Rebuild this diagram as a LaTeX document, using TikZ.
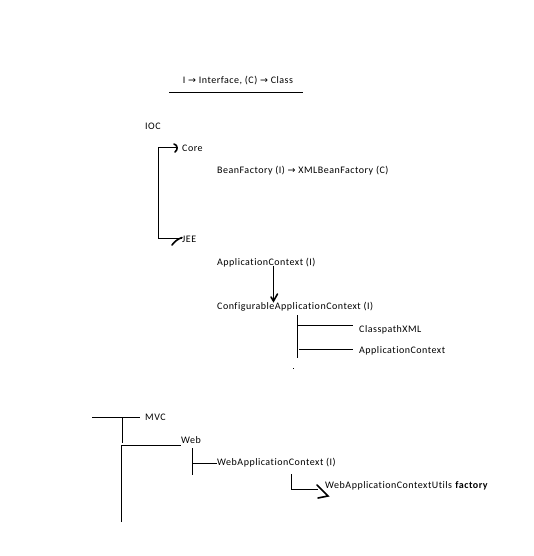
\documentclass[tikz,border=0pt]{standalone}
\usepackage{fontspec}
\setmainfont{Carlito}[LetterSpace=5,RawFeature={-liga;-clig}]
\newfontfamily\symf{DejaVu Sans}
\newcommand{\rarr}{{\symf\fontsize{9.5}{10}\selectfont →}}
\tikzset{
  lbl/.style={anchor=base west, inner sep=0pt, font=\fontsize{10}{12}\selectfont},
  ln/.style={line width=1pt, draw=black},
  hook/.style={line width=1.6pt, draw=black, line cap=round},
}
\begin{document}
\begin{tikzpicture}[x=1pt,y=-1pt]
\useasboundingbox (0,0) rectangle (533,556);
\fill[white] (0,0) rectangle (533,556);

% legend
\node[lbl, anchor=base] (title) at (238,84) {I \rarr{} Interface, (C) \rarr{} Class};
\coordinate (ul1) at (169,93);
\coordinate (ul2) at (303,93);
\draw[ln] (ul1) -- (ul2);

% IOC
\node[lbl] (ioc) at (145,129.5) {IOC};
\node[lbl] (core) at (182,152) {Core};
\node[lbl] (bean) at (217,174) {BeanFactory (I) \rarr{} XMLBeanFactory (C)};
\node[lbl] (jee) at (182,242) {JEE};

\coordinate (b1) at (158,148);
\coordinate (b2) at (158,238);
\draw[ln] ([xshift=-5pt]core.west |- b1) -- (b1) -- (b2) -- (jee.west |- b2);
\draw[hook] (174,144) .. controls (178,145) and (178,150) .. (175,152);
\draw[hook] (172,245) .. controls (175,241) and (178,239) .. (182,237.5);

\node[lbl] (appctx) at (217,265) {ApplicationContext (I)};
\node[lbl] (conf) at (217,309) {ConfigurableApplicationContext (I)};
\coordinate (ax) at (273,0);
\draw[ln] ([yshift=1pt]appctx.south -| ax) -- ([yshift=-1pt]conf.north -| ax);
\draw[hook] (271,297) -- (273.5,301) -- (277.5,294);

\node[lbl] (cpx) at (359,332) {ClasspathXML};
\node[lbl] (appctx2) at (359,353) {ApplicationContext};
\coordinate (v1) at (297,315);
\coordinate (v2) at (297,358);
\draw[ln] (v1) -- (v2);
\coordinate (h1) at (297,325);
\coordinate (h2) at (299,349);
\draw[ln] (h1) -- ([xshift=-6pt]cpx.west |- h1);
\draw[ln] (h2) -- ([xshift=-6pt]appctx2.west |- h2);
\fill (292.5,367.5) rectangle (294,369);

% MVC
\node[lbl] (mvc) at (145,420) {MVC};
\node[lbl] (web) at (181,443) {Web};
\node[lbl] (wac) at (217,465) {WebApplicationContext (I)};
\node[lbl] (wacu) at (325,488) {WebApplicationContextUtils \textbf{factory}};

\coordinate (m0) at (92,417.5);
\coordinate (m1) at (122,417.5);
\coordinate (m2) at (122,443);
\draw[ln] (m0) -- ([xshift=-5pt]mvc.west |- m0);
\draw[ln] (m1) -- (m2);
\coordinate (w1) at (121,445);
\coordinate (w2) at (121,522);
\draw[ln] (w2) -- (w1) -- (web.base west |- w1);

\coordinate (x1) at (192,448);
\coordinate (x2) at (192,475);
\coordinate (x3) at (192,463);
\draw[ln] (x1) -- (x2);
\draw[ln] (x3) -- (wac.west |- x3);

\coordinate (y1) at (291,474);
\coordinate (y2) at (291,489);
\draw[ln] (y1) -- (y2) -- ([xshift=-7pt]wacu.west |- y2);
\draw[hook] (317,485) -- (328,496) -- (318,498);
\end{tikzpicture}
\end{document}
